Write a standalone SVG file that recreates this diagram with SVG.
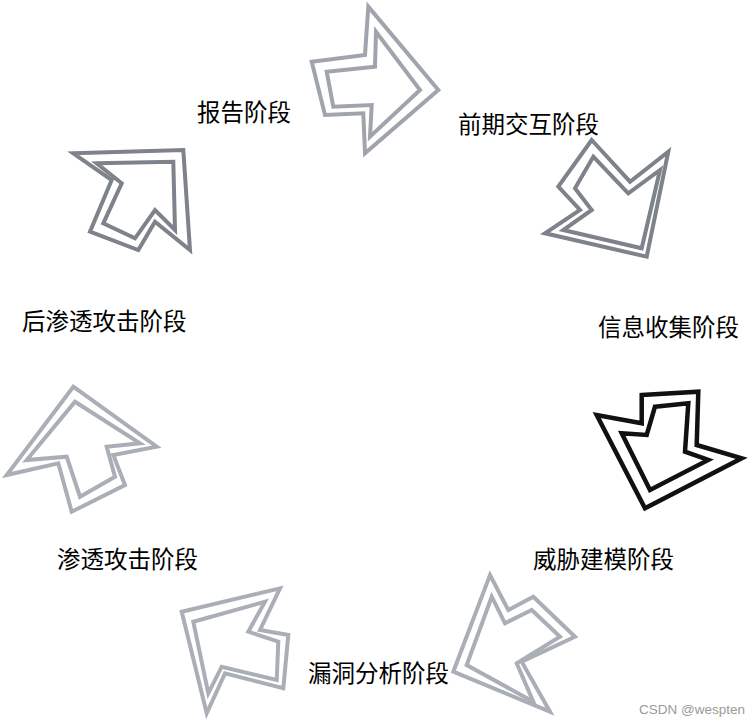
<svg xmlns="http://www.w3.org/2000/svg" width="750" height="725" viewBox="0 0 750 725">
<style>
.bg{fill:#ffffff}
.ar{fill:none;stroke-width:4;stroke-linejoin:miter}
.g1{stroke:#a0a4ac}
.g2{stroke:#7e828a}
.g3{stroke:#aaaeb6}
.blk{stroke:#111111;stroke-width:4.5}
.lbl{font-family:"Noto Sans CJK SC","Liberation Serif",serif;font-size:23.5px;fill:#000000;dominant-baseline:central}
.wm{font-family:"Liberation Sans",Arial,sans-serif;font-size:13.5px;fill:#9a9a9a;dominant-baseline:central}
</style>
<rect class="bg" x="0" y="0" width="750" height="725"/>
<g id="connectors">
  <g id="arrow-report-to-pre">
    <polygon class="ar g1" points="311.7,61.7 365,55 368.3,6.7 438.3,90 365,153.3 363.3,113.3 325,115"/>
    <polygon class="ar g1" points="326.7,71.7 375,66.7 376,31.7 420,90 370,136.7 371.7,105 333.3,106.7"/>
  </g>
  <g id="arrow-pre-to-info">
    <polygon class="ar g2" points="591.7,140 630,181.7 668.3,151.7 646.7,256.7 545,233.3 580,210 558.3,186.7"/>
    <polygon class="ar g2" points="593.3,156.7 628.3,193.3 660,170 641.7,248.3 563.3,230 591.7,210 575,188.3"/>
  </g>
  <g id="arrow-info-to-threat">
    <polygon class="ar blk" points="641.7,395 698.3,391.7 696.7,445 741.7,458.3 645,508.3 596.7,415 641.7,423.3"/>
    <polygon class="ar blk" points="655,406.7 688.3,403.3 685,451.7 708.3,460 650,490 621.7,433.3 646.7,435"/>
  </g>
  <g id="arrow-threat-to-vuln">
    <polygon class="ar g3" points="490,575 508.3,610 533.3,596.7 575,636.7 521.7,661.7 550,711.7 453.3,671.7"/>
    <polygon class="ar g3" points="491.7,596.7 505,623.3 531.7,610 560,636.7 516.7,663.3 533.3,701.7 466.7,665"/>
  </g>
  <g id="arrow-vuln-to-exploit">
    <polygon class="ar g3" points="181.7,611.7 280,588.3 260,630 288.3,635 283.3,688.3 225,673.3 206.7,713.3"/>
    <polygon class="ar g3" points="193.3,621.7 265,601.7 248.3,631.7 278.3,641.7 276.7,680 221.7,666.7 208.3,693.3"/>
  </g>
  <g id="arrow-exploit-to-post">
    <polygon class="ar g3" points="73.3,386.7 156.7,446.7 113.3,455 125,485 71.7,511.7 58.3,463.3 6.7,475"/>
    <polygon class="ar g3" points="75,401.7 140,443.3 106.7,446.7 115,476.7 80,496.7 66.7,456.7 26.7,460"/>
  </g>
  <g id="arrow-post-to-report">
    <polygon class="ar g2" points="73.3,153.3 183.3,150 190,250 155,221.7 138.3,250 90,231.7 111.7,180"/>
    <polygon class="ar g2" points="96.7,163.3 173.3,161.7 175,230 155,210 135,238.3 103.3,223.3 121.7,183.3"/>
  </g>
</g>
<g id="node-report"><text class="lbl" x="197" y="111">报告阶段</text></g>
<g id="node-pre"><text class="lbl" x="458" y="123">前期交互阶段</text></g>
<g id="node-info"><text class="lbl" x="598" y="326">信息收集阶段</text></g>
<g id="node-threat"><text class="lbl" x="533" y="558">威胁建模阶段</text></g>
<g id="node-vuln"><text class="lbl" x="308" y="672">漏洞分析阶段</text></g>
<g id="node-exploit"><text class="lbl" x="57" y="558">渗透攻击阶段</text></g>
<g id="node-post"><text class="lbl" x="22" y="320">后渗透攻击阶段</text></g>
<g id="watermark"><text class="wm" x="639" y="709">CSDN @wespten</text></g>
</svg>
